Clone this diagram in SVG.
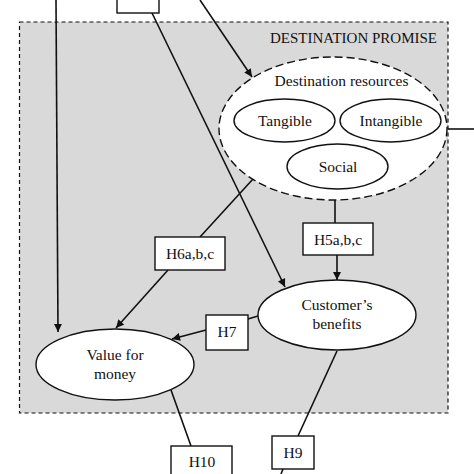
<svg xmlns="http://www.w3.org/2000/svg" width="474" height="474" viewBox="0 0 474 474">
<style>
text{font-family:"Liberation Serif","Times New Roman",serif;font-size:15.5px;fill:#111;text-anchor:middle}
.box{fill:#fff;stroke:#111;stroke-width:1.4}
.ell{fill:#fff;stroke:#111;stroke-width:1.4}
.ln{fill:none;stroke:#111;stroke-width:1.6}
</style>
<defs>
<marker id="ah" viewBox="0 0 10 10" refX="10" refY="5" markerWidth="9" markerHeight="8" markerUnits="userSpaceOnUse" orient="auto">
<path d="M0,0 L10,5 L0,10 z" fill="#111"/>
</marker>
</defs>
<rect width="474" height="474" fill="#fff"/>
<g id="promise">
<rect x="19.5" y="22" width="428.5" height="391" fill="#d9d9d9" stroke="#111" stroke-width="1.2" stroke-dasharray="4,3"/>
<text x="353.5" y="43" style="font-size:15px" textLength="167" lengthAdjust="spacingAndGlyphs">DESTINATION PROMISE</text>
</g>
<g id="connectors">
<line class="ln" x1="56" y1="0" x2="58" y2="332" marker-end="url(#ah)"/>
<line class="ln" x1="152" y1="13" x2="285" y2="287" marker-end="url(#ah)"/>
<line class="ln" x1="200" y1="0" x2="252" y2="77" marker-end="url(#ah)"/>
<line class="ln" x1="448" y1="129" x2="474" y2="129"/>
<line class="ln" x1="335" y1="200" x2="335" y2="223"/>
<line class="ln" x1="337" y1="255" x2="337" y2="280" marker-end="url(#ah)"/>
<line class="ln" x1="253" y1="179" x2="200" y2="237"/>
<line class="ln" x1="168" y1="270" x2="116" y2="328" marker-end="url(#ah)"/>
<line class="ln" x1="258" y1="316" x2="248" y2="319"/>
<line class="ln" x1="206" y1="330" x2="172" y2="339" marker-end="url(#ah)"/>
<line class="ln" x1="171" y1="390" x2="191" y2="446"/>
<line class="ln" x1="337" y1="351" x2="298" y2="436"/>
<line class="ln" x1="283" y1="469" x2="281" y2="474"/>
</g>
<g id="top-box"><rect class="box" x="117" y="-2" width="42" height="15"/></g>
<g id="destination-resources">
<ellipse cx="333" cy="128.5" rx="114" ry="71.5" fill="#fff" stroke="#111" stroke-width="1.4" stroke-dasharray="8,4"/>
<text x="341.5" y="86">Destination resources</text>
</g>
<g id="tangible"><ellipse class="ell" cx="284.5" cy="120.5" rx="50.5" ry="21.5"/><text x="285" y="126">Tangible</text></g>
<g id="intangible"><ellipse class="ell" cx="390.5" cy="120.5" rx="50.5" ry="21.5"/><text x="391" y="126">Intangible</text></g>
<g id="social"><ellipse class="ell" cx="337.5" cy="166.5" rx="50.5" ry="22.5"/><text x="338" y="172">Social</text></g>
<g id="h5"><rect class="box" x="303" y="223" width="70" height="32"/><text x="338" y="245">H5a,b,c</text></g>
<g id="h6"><rect class="box" x="155" y="237" width="70" height="33"/><text x="190" y="259">H6a,b,c</text></g>
<g id="customers-benefits"><ellipse class="ell" cx="337" cy="315" rx="79" ry="35"/><text x="337" y="310">Customer’s</text><text x="337" y="329">benefits</text></g>
<g id="value-for-money"><ellipse class="ell" cx="115" cy="364.5" rx="79" ry="35.5"/><text x="115" y="360">Value for</text><text x="115" y="379">money</text></g>
<g id="h7"><rect class="box" x="206" y="315" width="42" height="35"/><text x="227" y="337">H7</text></g>
<g id="h10"><rect class="box" x="171" y="446" width="61" height="32"/><text x="202" y="467">H10</text></g>
<g id="h9"><rect class="box" x="272" y="436" width="42" height="33"/><text x="293" y="458">H9</text></g>
</svg>
